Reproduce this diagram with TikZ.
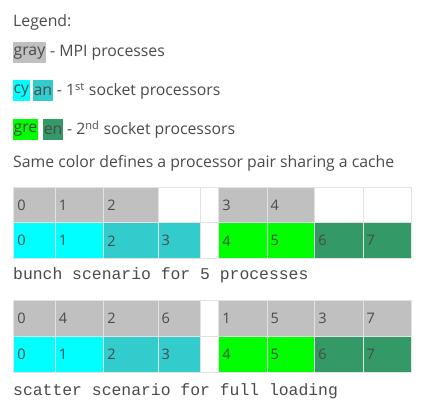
\documentclass[tikz,border=0pt]{standalone}
\usepackage{fontspec}
\setmainfont{Open Sans}
\setmonofont{Liberation Mono}
\definecolor{txt}{HTML}{4A4A4A}
\definecolor{cgray}{HTML}{C0C0C0}
\definecolor{ccyan}{HTML}{00FFFF}
\definecolor{cdcyan}{HTML}{33CCCC}
\definecolor{cgreen}{HTML}{00FF00}
\definecolor{cdgreen}{HTML}{339966}
\definecolor{cborder}{HTML}{E2E2E2}
\begin{document}
\begin{tikzpicture}[x=1pt,y=-1pt,
  every node/.style={text=txt},
  legtext/.style={anchor=west, inner sep=0pt, font=\fontsize{15.8}{18}\selectfont},
  swatch/.style={anchor=west, inner xsep=0.5pt, inner ysep=0pt, minimum height=21pt, font=\fontsize{15.8}{18}\selectfont},
  cell/.style={draw=cborder, line width=1pt, anchor=north west, minimum height=36pt,
    inner xsep=3.5pt, align=left, font=\fontsize{14.5}{16}\selectfont},
  caption/.style={anchor=west, inner sep=0pt, font=\ttfamily\fontsize{16.4}{18}\selectfont}]
\useasboundingbox (0,0) rectangle (432,409);
% Legend
\node[legtext] (leg) at (13,22) {Legend:};
\node[swatch, fill=cgray] (sg) at (13,53) {gray};
\node[legtext, anchor=west] (lg) at ([xshift=4pt]sg.east) {- MPI processes};
\node[swatch, fill=ccyan] (sc1) at (13,91) {cy};
\node[swatch, fill=cdcyan] (sc2) at ([xshift=3pt]sc1.east) {an};
\node[legtext] (lc) at ([xshift=4pt]sc2.east) {- 1\textsuperscript{st} socket processors};
\node[swatch, fill=cgreen] (sn1) at (13,130) {gre};
\node[swatch, fill=cdgreen] (sn2) at ([xshift=5pt]sn1.east) {en};
\node[legtext] (ln) at ([xshift=4pt]sn2.east) {- 2\textsuperscript{nd} socket processors};
\node[legtext] (same) at (13,163) {\hbox to 381pt{Same\hfil color\hfil defines\hfil a\hfil processor\hfil pair\hfil sharing\hfil a\hfil cache}};
% Table 1
\foreach \x/\w/\c/\t [count=\i] in {13.3/41.7/cgray/0, 55/48.3/cgray/1, 103.3/54.4/cgray/2, 157.7/42.3/white/{}, 200/18.3/white/{}, 218.3/48.4/cgray/3, 266.7/47.6/cgray/4, 314.3/48.4/white/{}, 362.7/48.3/white/{}}
  \node[cell, fill=\c, minimum width=\w pt, text width=\w pt-7pt] (a\i) at (\x,186.7) {\t};
\foreach \x/\w/\c/\t [count=\i] in {13.3/41.7/ccyan/0, 55/48.3/ccyan/1, 103.3/54.4/cdcyan/2, 157.7/42.3/cdcyan/3, 200/18.3/white/{}, 218.3/48.4/cgreen/4, 266.7/47.6/cgreen/5, 314.3/48.4/cdgreen/6, 362.7/48.3/cdgreen/7}
  \node[cell, fill=\c, minimum width=\w pt, text width=\w pt-7pt] (b\i) at (\x,222.3) {\t};
\node[caption] (cap1) at (13,275) {bunch scenario for 5 processes};
% Table 2
\foreach \x/\w/\c/\t [count=\i] in {13.3/41.7/cgray/0, 55/48.3/cgray/4, 103.3/54.4/cgray/2, 157.7/42.3/cgray/6, 200/18.3/white/{}, 218.3/48.4/cgray/1, 266.7/47.6/cgray/5, 314.3/48.4/cgray/3, 362.7/48.3/cgray/7}
  \node[cell, fill=\c, minimum width=\w pt, text width=\w pt-7pt] (c\i) at (\x,300) {\t};
\foreach \x/\w/\c/\t [count=\i] in {13.3/41.7/ccyan/0, 55/48.3/ccyan/1, 103.3/54.4/cdcyan/2, 157.7/42.3/cdcyan/3, 200/18.3/white/{}, 218.3/48.4/cgreen/4, 266.7/47.6/cgreen/5, 314.3/48.4/cdgreen/6, 362.7/48.3/cdgreen/7}
  \node[cell, fill=\c, minimum width=\w pt, text width=\w pt-7pt] (d\i) at (\x,335.7) {\t};
\node[caption] (cap2) at (13,391) {scatter scenario for full loading};
\end{tikzpicture}
\end{document}
